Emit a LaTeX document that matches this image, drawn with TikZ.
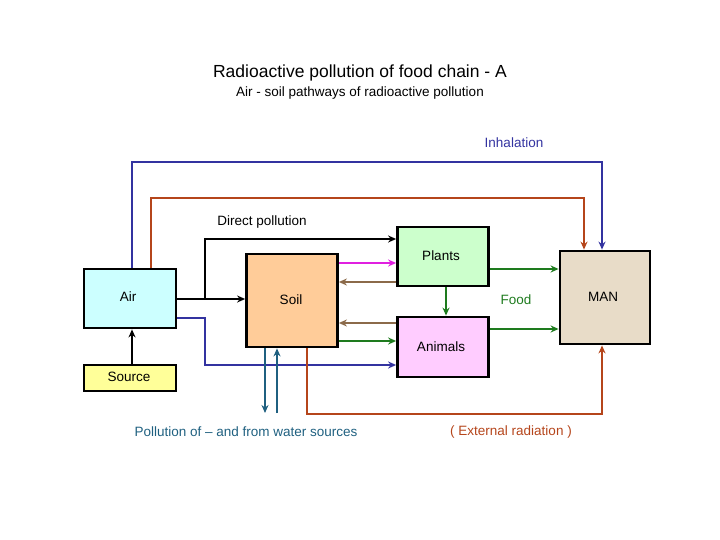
\documentclass[tikz,border=0pt]{standalone}
\usepackage{fontspec}
\setmainfont{Liberation Sans}
\usetikzlibrary{arrows.meta}
\definecolor{cblue}{HTML}{3333A0}
\definecolor{corange}{HTML}{B5451B}
\definecolor{cgreen}{HTML}{1E7B1E}
\definecolor{cmag}{HTML}{E020E0}
\definecolor{cbrown}{HTML}{8B6A4A}
\definecolor{cteal}{HTML}{1F6080}
\begin{document}
\begin{tikzpicture}[x=1pt,y=-1pt,
  box/.style={draw,line width=2.8pt,inner sep=0pt},
  con/.style={line width=2.8pt,-{Stealth[length=8pt,width=7pt]}},
  lbl/.style={font=\fontsize{13.5}{15}\selectfont,inner sep=0pt}]
\useasboundingbox (0,0) rectangle (720,540);
\node[box,fill={rgb,255:red,204;green,255;blue,255},minimum width=92pt,minimum height=59pt] (air) at (130,298.5) {};
\node[lbl] at (128,297) {Air};
\node[box,fill={rgb,255:red,255;green,255;blue,153},minimum width=92pt,minimum height=26pt] (src) at (130,378) {};
\node[lbl] at (129,377) {Source};
\node[box,fill={rgb,255:red,255;green,204;blue,153},minimum width=91pt,minimum height=93pt] (soil) at (292,300.5) {};
\node[lbl] at (291,300) {Soil};
\node[box,fill={rgb,255:red,204;green,255;blue,204},minimum width=91pt,minimum height=59pt] (plants) at (443,256.5) {};
\node[lbl] at (441,256) {Plants};
\node[box,fill={rgb,255:red,255;green,204;blue,255},minimum width=91pt,minimum height=60pt] (animals) at (443,347) {};
\node[lbl] at (441,347) {Animals};
\node[box,fill={rgb,255:red,232;green,220;blue,200},minimum width=90pt,minimum height=93pt] (man) at (605,297.5) {};
\node[lbl] at (603,297) {MAN};
\node[lbl,text=cgreen] (food) at (516,300) {Food};
\node[font=\fontsize{17.5}{20}\selectfont] (title) at (360,73) {Radioactive pollution of food chain - A};
\node[lbl] (sub) at (360,93) {Air - soil pathways of radioactive pollution};
\node[lbl,text=cblue] (inh) at (514,143) {Inhalation};
\node[lbl] (dp) at (262,222) {Direct pollution};
\node[lbl,text=cteal] (pw) at (246,432) {Pollution of -- and from water sources};
\node[lbl,text=corange] (ext) at (511,432) {( External radiation )};
\coordinate (wb) at (265,413);
\coordinate (wt) at (277,413);
% connectors
\draw[con,cblue] (air.north -| 132,0) |- (602,162) -- (man.north -| 602,0);
\draw[con,corange] (air.north -| 151,0) |- (584,198) -- (man.north -| 584,0);
\draw[con,black] (air.east |- 0,299) -- (soil.west |- 0,299);
\draw[con,black] (205,299) |- (plants.west |- 0,239);
\draw[con,cblue] (air.east |- 0,318) -| (205,365) -- (animals.west |- 0,365);
\draw[con,cmag] (soil.east |- 0,263) -- (plants.west |- 0,263);
\draw[con,cbrown] (plants.west |- 0,282) -- (soil.east |- 0,282);
\draw[con,cbrown] (animals.west |- 0,323) -- (soil.east |- 0,323);
\draw[con,cgreen] (soil.east |- 0,341) -- (animals.west |- 0,341);
\draw[con,cgreen] (plants.south -| 446,0) -- (animals.north -| 446,0);
\draw[con,cgreen] (plants.east |- 0,269) -- (man.west |- 0,269);
\draw[con,cgreen] (animals.east |- 0,329) -- (man.west |- 0,329);
\draw[con,black] (src.north -| 132,0) -- (air.south -| 132,0);
\draw[con,cteal,line width=1.8pt] (soil.south -| 265,0) -- (wb);
\draw[con,cteal,line width=1.8pt] (wt) -- (soil.south -| 277,0);
\draw[con,corange] (soil.south -| 307,0) |- (602,414) -- (man.south -| 602,0);
\end{tikzpicture}
\end{document}
